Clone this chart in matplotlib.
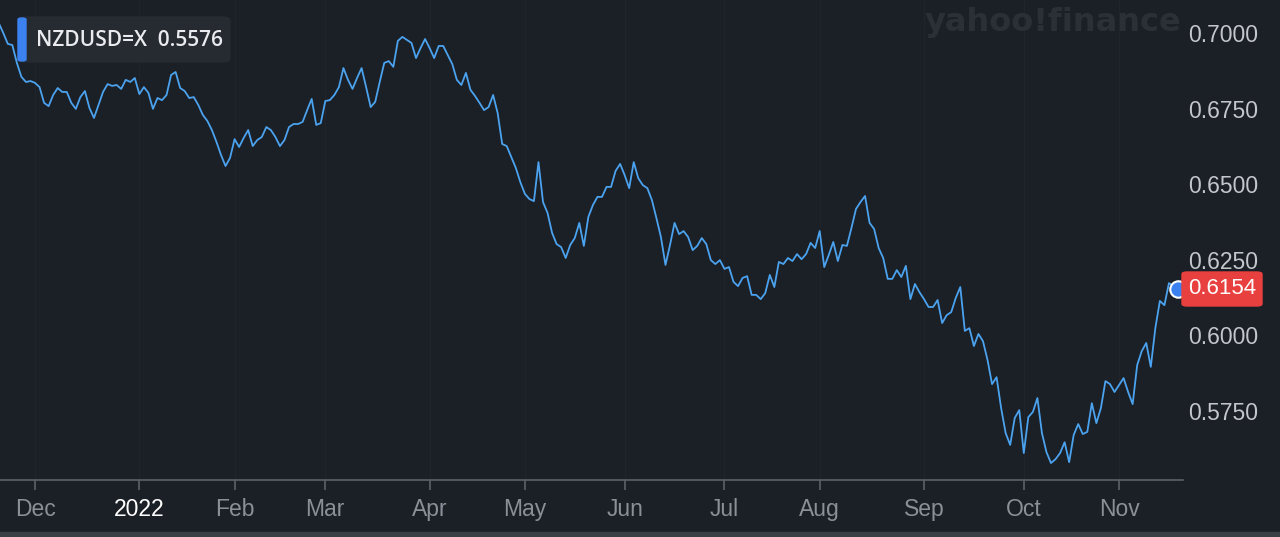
import pandas as pd
import matplotlib.pyplot as plt
from matplotlib.patches import FancyBboxPatch, Rectangle

# NZD/USD daily closes, one per business day from 19 Nov 2021
prices = [
    0.7033, 0.7000, 0.6964, 0.6960, 0.6901, 0.6855, 0.6838, 0.6841, 0.6835, 0.6821,
    0.6769, 0.6758, 0.6795, 0.6818, 0.6805, 0.6805, 0.6769, 0.6749, 0.6788, 0.6808,
    0.6752, 0.6719, 0.6762, 0.6805, 0.6831, 0.6825, 0.6828, 0.6815, 0.6845, 0.6838,
    0.6851, 0.6798, 0.6821, 0.6802, 0.6749, 0.6785, 0.6778, 0.6795, 0.6861, 0.6871,
    0.6818, 0.6808, 0.6785, 0.6788, 0.6762, 0.6729, 0.6709, 0.6679, 0.6640, 0.6597,
    0.6560, 0.6587, 0.6649, 0.6623, 0.6653, 0.6679, 0.6626, 0.6646, 0.6656, 0.6689,
    0.6679, 0.6656, 0.6626, 0.6646, 0.6689, 0.6699, 0.6699, 0.6706, 0.6745, 0.6782,
    0.6696, 0.6702, 0.6775, 0.6778, 0.6795, 0.6821, 0.6884, 0.6845, 0.6815, 0.6851,
    0.6884, 0.6821, 0.6755, 0.6772, 0.6838, 0.6901, 0.6907, 0.6888, 0.6974, 0.6987,
    0.6977, 0.6967, 0.6917, 0.6950, 0.6980, 0.6950, 0.6917, 0.6957, 0.6957, 0.6927,
    0.6897, 0.6845, 0.6828, 0.6868, 0.6812, 0.6792, 0.6769, 0.6745, 0.6755, 0.6795,
    0.6735, 0.6633, 0.6626, 0.6590, 0.6554, 0.6507, 0.6468, 0.6451, 0.6444, 0.6573,
    0.6441, 0.6405, 0.6339, 0.6302, 0.6292, 0.6256, 0.6299, 0.6322, 0.6372, 0.6296,
    0.6392, 0.6431, 0.6458, 0.6458, 0.6491, 0.6491, 0.6544, 0.6567, 0.6530, 0.6487,
    0.6573, 0.6520, 0.6497, 0.6487, 0.6448, 0.6388, 0.6325, 0.6233, 0.6299, 0.6372,
    0.6335, 0.6345, 0.6325, 0.6282, 0.6296, 0.6322, 0.6302, 0.6249, 0.6236, 0.6249,
    0.6220, 0.6226, 0.6177, 0.6163, 0.6190, 0.6196, 0.6134, 0.6134, 0.6120, 0.6140,
    0.6200, 0.6160, 0.6243, 0.6236, 0.6256, 0.6246, 0.6269, 0.6252, 0.6269, 0.6306,
    0.6289, 0.6345, 0.6226, 0.6266, 0.6309, 0.6246, 0.6299, 0.6296, 0.6355, 0.6418,
    0.6441, 0.6461, 0.6372, 0.6352, 0.6289, 0.6256, 0.6187, 0.6187, 0.6216, 0.6193,
    0.6230, 0.6120, 0.6170, 0.6143, 0.6120, 0.6094, 0.6094, 0.6117, 0.6041, 0.6067,
    0.6077, 0.6124, 0.6160, 0.6015, 0.6024, 0.5965, 0.6005, 0.5981, 0.5919, 0.5839,
    0.5862, 0.5760, 0.5677, 0.5638, 0.5727, 0.5753, 0.5611, 0.5730, 0.5747, 0.5793,
    0.5677, 0.5614, 0.5578, 0.5591, 0.5611, 0.5647, 0.5581, 0.5671, 0.5707, 0.5674,
    0.5681, 0.5776, 0.5710, 0.5760, 0.5849, 0.5839, 0.5813, 0.5836, 0.5859, 0.5813,
    0.5773, 0.5902, 0.5948, 0.5975, 0.5896, 0.6024, 0.6114, 0.6100, 0.6173, 0.6163,
    0.6154,
]
dates = pd.bdate_range("2021-11-19", periods=len(prices))

month_labels = ["Dec", "2022", "Feb", "Mar", "Apr", "May", "Jun",
                "Jul", "Aug", "Sep", "Oct", "Nov"]
y_ticks = [0.5750, 0.6000, 0.6250, 0.6500, 0.6750, 0.7000]
symbol = "NZDUSD=X"
hover_value = 0.5576

bg = "#1b1f26"
line_col = "#4ba3ef"
W, H = 1280, 537

# first trading day of each month -> tick position
month_pos = [i for i in range(1, len(dates)) if dates[i].month != dates[i - 1].month]

fig = plt.figure(figsize=(12.8, 5.37), dpi=100, facecolor=bg)
ax = fig.add_axes([0, 1 - 480 / H, 1183 / W, 480 / H])
ax.set_facecolor(bg)

x = list(range(len(prices)))
ax.plot(x, prices, color=line_col, linewidth=1.3, zorder=3)
ax.scatter([x[-1]], [prices[-1]], s=140, color="#3b82f0", edgecolor="white",
           linewidth=1.5, zorder=5, clip_on=False)

ax.set_xlim(0.28, 261.1)
ax.set_ylim(0.5522, 0.7109)

# faint vertical grid at month starts
for p in month_pos:
    ax.axvline(p, color="#20252d", linewidth=1, zorder=1)

for s in ["top", "left", "right"]:
    ax.spines[s].set_visible(False)
ax.spines["bottom"].set_color("#5d626a")
ax.spines["bottom"].set_linewidth(1.2)

ax.set_xticks(month_pos)
ax.set_xticklabels(month_labels, fontsize=16.5, family="Liberation Sans")
ax.tick_params(axis="x", length=7, width=1.2, color="#5d626a", pad=6)
for lbl in ax.get_xticklabels():
    lbl.set_color("#ffffff" if lbl.get_text() == "2022" else "#8b9098")

ax.yaxis.tick_right()
ax.set_yticks(y_ticks)
ax.set_yticklabels(["%.4f" % v for v in y_ticks], fontsize=16.5,
                   family="Liberation Sans", color="#c3c6cb")
ax.tick_params(axis="y", length=0, pad=4)

# bottom strip
fig.patches.append(Rectangle((0, 0), 1, 5 / H, transform=fig.transFigure,
                             color="#3a3f46", zorder=0))

# watermark
fig.text(925 / W, 1 - 23 / H, "yahoo!finance", fontsize=23, fontweight="heavy",
         color="#2b2f36", va="center", ha="left", family="DejaVu Sans", zorder=1)

# hover tooltip box
fig.patches.append(FancyBboxPatch((18 / W, 1 - 62 / H), 212 / W, 45 / H,
                                  boxstyle="round,pad=0,rounding_size=0.006",
                                  transform=fig.transFigure, color="#262a31", zorder=4))
fig.patches.append(FancyBboxPatch((18 / W, 1 - 61 / H), 8 / W, 43 / H,
                                  boxstyle="round,pad=0,rounding_size=0.003",
                                  transform=fig.transFigure, color="#3b82f0", zorder=5))
fig.text(36 / W, 1 - 40 / H, "%s  %.4f" % (symbol, hover_value), fontsize=15,
         color="#e9ebee", va="center", ha="left", family="Open Sans",
         fontweight="semibold", zorder=6)

# last price label
fig.patches.append(FancyBboxPatch((1182 / W, 1 - 306 / H), 80 / W, 34 / H,
                                  boxstyle="round,pad=0,rounding_size=0.004",
                                  transform=fig.transFigure, color="#e8403e", zorder=4))
fig.text(1222 / W, 1 - 289 / H, "%.4f" % prices[-1], fontsize=16, color="white",
         va="center", ha="center", family="Liberation Sans", zorder=6)

fig.savefig("out.png", dpi=100, facecolor=bg)
